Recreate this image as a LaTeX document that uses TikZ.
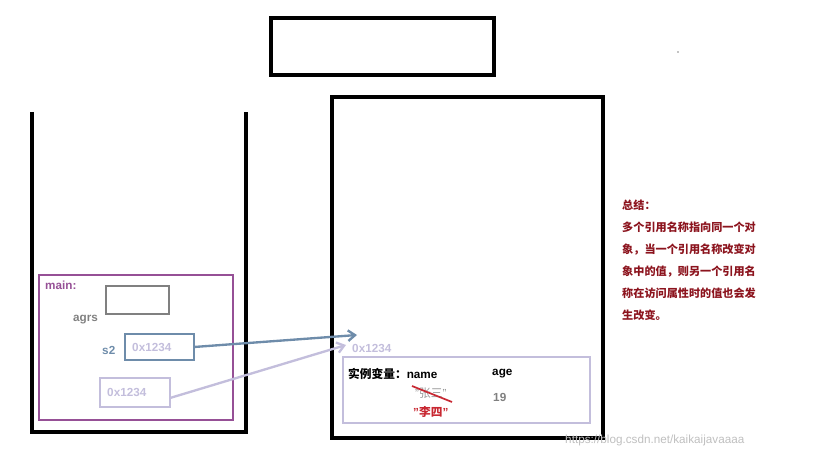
\documentclass[tikz,border=0pt]{standalone}
\usepackage{fontspec}
\setmainfont{Liberation Sans}
\newfontfamily\cjk{Noto Sans CJK SC}
\usetikzlibrary{arrows.meta}
\definecolor{mainpurple}{RGB}{150,80,150}
\definecolor{lav}{RGB}{195,190,220}
\definecolor{bluegray}{RGB}{110,140,170}
\definecolor{darkred}{RGB}{140,20,30}
\definecolor{redtxt}{RGB}{200,40,50}
\begin{document}
\begin{tikzpicture}[x=0.03cm,y=-0.03cm,
wall/.style={draw=black, line width=3.4pt},
lbl/.style={anchor=west, inner sep=0pt, font=\bfseries\fontsize{10}{11}\selectfont},
ref/.style={line width=2pt, -{Straight Barb[length=6pt,width=9pt]}}
]
\useasboundingbox (0,0) rectangle (819,460);
%Walls
\draw[wall] (271,18) rectangle (494,75);
\draw[wall] (32,112) -- (32,432) -- (246,432) -- (246,112);
\draw[wall] (332,97) rectangle (603,438);
\fill (678,52) circle (0.6);
%Stack frame
\draw[mainpurple, line width=2.5pt] (39,275) rectangle (233,420);
\node[lbl, text=mainpurple] (mainlbl) at (45,285) {main:};
\draw[gray, line width=2.5pt] (106,286) rectangle (169,314);
\node[lbl, text=gray] (agrs) at (73,320) {agrs};
\draw[bluegray, line width=2.5pt] (125,334) rectangle (194,360);
\node[lbl, text=lav] (s2val) at (132,347) {0x1234};
\node[lbl, text=bluegray] (s2) at (102,350) {s2};
\coordinate (s2out) at (194,347);
\draw[lav, line width=2.5pt] (100,378) rectangle (170,407);
\node[lbl, text=lav] (anonval) at (107,392) {0x1234};
\coordinate (anonout) at (170,398);
%Heap object
\node[lbl, text=lav] (addr) at (352,348) {0x1234};
\draw[lav, line width=2.5pt] (343,357) rectangle (590,423);
\node[lbl] (fields) at (348,374) {{\cjk 实例变量：}name};
\node[lbl] (age) at (492,374) {age};
\node[lbl, text=gray!80, font=\fontsize{10}{11}\selectfont] (oldname) at (415,393) {"{\cjk 张三}"};
\draw[redtxt, line width=1.5pt] (412,386) -- (452,402);
\node[lbl, text=redtxt] (newname) at (413,412) {"{\cjk\bfseries 李四}"};
\node[lbl, text=gray] (agev) at (493,397) {19};
\coordinate (tgt1) at (357,335);
\coordinate (tgt2) at (346,345);
%Lines
\draw[ref, bluegray] (s2out) -- (tgt1);
\draw[ref, lav] (anonout) -- (tgt2);
%Summary
\node[lbl, text=darkred, anchor=north west, align=left, font=\cjk\bfseries\fontsize{9.5}{18.75}\selectfont] (sum) at (622,200)
{总结：\\多个引用名称指向同一个对\\象，当一个引用名称改变对\\象中的值，则另一个引用名\\称在访问属性时的值也会发\\生改变。};
\node[lbl, text=gray!50, font=\fontsize{10}{12}\selectfont] (wm) at (565,440) {https://blog.csdn.net/kaikaijavaaaa};
\end{tikzpicture}
\end{document}
